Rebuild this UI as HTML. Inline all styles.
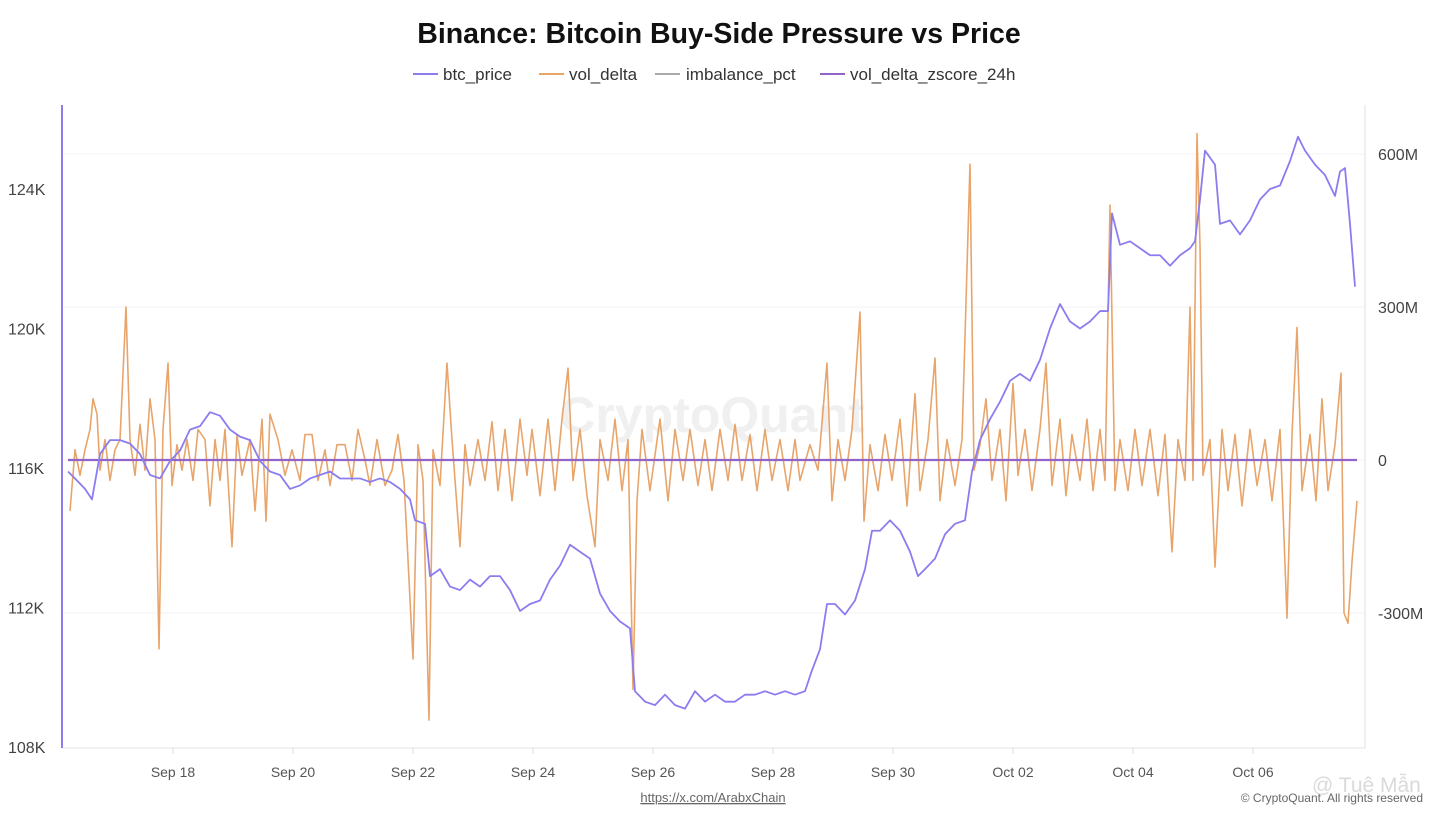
<!DOCTYPE html>
<html><head><meta charset="utf-8">
<style>
html,body{margin:0;padding:0;background:#fff;}
body{width:1438px;height:811px;overflow:hidden;font-family:"Liberation Sans",sans-serif;}
</style></head>
<body>
<svg id="chart" width="1438" height="811" xmlns="http://www.w3.org/2000/svg" font-family="Liberation Sans, sans-serif">
<text x="719" y="43" text-anchor="middle" font-size="28.5" font-weight="bold" fill="#111">Binance: Bitcoin Buy-Side Pressure vs Price</text>
<g font-size="17" fill="#333">
 <g><line x1="413" y1="74" x2="438" y2="74" stroke="#8b7cf0" stroke-width="2"/><text x="443" y="80">btc_price</text></g>
 <g><line x1="539" y1="74" x2="564" y2="74" stroke="#e8a56b" stroke-width="2"/><text x="569" y="80">vol_delta</text></g>
 <g><line x1="655" y1="74" x2="680" y2="74" stroke="#aaa" stroke-width="2"/><text x="686" y="80">imbalance_pct</text></g>
 <g><line x1="820" y1="74" x2="845" y2="74" stroke="#9064c8" stroke-width="2"/><text x="850" y="80">vol_delta_zscore_24h</text></g>
</g>
<text x="712" y="432" text-anchor="middle" font-size="50" fill="#f0f0f0" font-weight="bold">CryptoQuant</text>
<g id="grid"></g>
<g id="axes"></g>
<g id="series"></g>
<text x="713" y="802" text-anchor="middle" font-size="13" fill="#666" text-decoration="underline">https://x.com/ArabxChain</text>
<text x="1312" y="792" font-size="21" fill="#dadada">@ Tuệ Mẫn</text>
<text x="1423" y="802" text-anchor="end" font-size="12" fill="#666">© CryptoQuant. All rights reserved</text>
</svg>
<script>
const priceHours=[6,8.8,12.8,15.6,18.8,22.8,26.8,30.8,34.8,38.8,42.8,46.8,50.8,54.8,58.8,62.8,66.8,70.8,74.8,78.8,82.8,86.8,90.8,94.8,98.8,102.8,106.8,110.8,114.8,118.8,122.8,126.8,130.8,134.8,138.8,142.8,144.8,148.8,150.8,154.8,158.8,162.8,166.8,170.8,174.8,178.8,182.8,186.8,190.8,194.8,198.8,202.8,206.8,210.8,214.8,218.8,222.8,226.8,230.8,232.8,236.8,240.8,244.8,248.8,252.8,256.8,260.8,264.8,268.8,272.8,276.8,280.8,284.8,288.8,292.8,296.8,300.8,303.6,306.8,309.6,312.8,316.8,320.8,324.8,327.6,330.8,334.8,338.8,342.8,346,348.8,352.8,356.8,360.8,364.8,367.6,370.8,374.8,378.8,382.8,386.8,390.8,394.8,398.8,402.8,406.8,410.8,414.8,418.8,422,423.6,426.8,430.8,434.8,438.8,442.8,446.8,450.8,454.8,456.8,458.8,460.8,464.8,466.8,470.8,474.8,478.8,482.8,486.8,490.8,494.8,498,500.8,504.8,508.8,512.8,514.8,516.8,518.8,520.8];
const priceValues=[115.9,115.7,115.4,115.1,116.4,116.8,116.8,116.7,116.4,115.8,115.7,116.2,116.5,117.1,117.2,117.6,117.5,117.1,116.9,116.8,116.2,115.9,115.8,115.4,115.5,115.7,115.8,115.9,115.7,115.7,115.7,115.6,115.7,115.6,115.4,115.1,114.5,114.4,112.9,113.1,112.6,112.5,112.8,112.6,112.9,112.9,112.5,111.9,112.1,112.2,112.8,113.2,113.8,113.6,113.4,112.4,111.9,111.6,111.4,109.6,109.3,109.2,109.5,109.2,109.1,109.6,109.3,109.5,109.3,109.3,109.5,109.5,109.6,109.5,109.6,109.5,109.6,110.2,110.8,112.1,112.1,111.8,112.2,113.1,114.2,114.2,114.5,114.2,113.6,112.9,113.1,113.4,114.1,114.4,114.5,115.9,116.8,117.4,117.9,118.5,118.7,118.5,119.1,120.0,120.7,120.2,120.0,120.2,120.5,120.5,123.3,122.4,122.5,122.3,122.1,122.1,121.8,122.1,122.3,122.5,123.7,125.1,124.7,123.0,123.1,122.7,123.1,123.7,124.0,124.1,124.8,125.5,125.1,124.7,124.4,123.8,124.5,124.6,123.0,121.2];
const volHours=[6.8,8.8,10.8,12.8,14.8,16,17.6,18.8,20.8,22.8,24.8,26.8,29.2,30.8,32.8,34.8,36.8,38.8,40.8,42.4,44,46,47.6,49.6,51.6,53.6,56,58,60.8,62.8,64.8,66.8,68.8,71.6,73.6,75.6,78.8,80.8,83.6,85.2,86.8,90,92.8,95.6,98.8,100.8,103.6,106,108.8,110.8,113.6,116.8,119.6,122,124.8,126.8,129.6,132.8,135.6,138,140.4,144,146,148,150.4,152,154.8,157.6,159.6,162.8,164.8,166.8,170,172.8,175.6,178,180.8,183.6,186.8,189.6,191.6,194.8,198,200.8,203.6,206,208,210.8,213.6,216.8,218.8,222,224.8,227.6,230,232,233.6,235.6,238.8,242.8,246,248.8,252,254.8,258,260.8,263.6,266.8,270,272.8,275.6,278.8,281.6,284.8,287.6,290.8,294,296.8,298.8,302.8,306,309.6,311.6,314,316.8,319.6,322.8,324.4,326.8,330,332.8,335.6,338.8,341.6,344.8,346.8,350,352.8,354.8,357.6,360.8,363.6,366.8,368.4,370.8,373.2,375.6,378.8,381.2,384,386,388.8,391.6,394.8,397.2,399.6,402.8,405.2,407.6,410.8,413.6,416,418.8,420.8,422.8,424.8,426.8,430,432.8,435.6,438.8,442,444.8,447.6,450,452.8,454.8,456,457.6,458.8,460,462.8,464.8,467.6,470,472.8,475.6,478.8,481.6,484.8,487.6,490.8,493.6,495.6,497.6,499.6,502.8,505.2,507.6,510,512.8,515.2,516.4,518,519.6,521.6];
const volValues=[-100,20,-30,20,60,120,90,-20,40,-40,20,40,300,40,-30,70,-20,120,40,-370,60,190,-50,30,-20,40,-40,60,40,-90,40,-40,60,-170,50,-30,40,-100,80,-120,90,40,-30,20,-40,50,50,-40,20,-50,30,30,-40,60,0,-50,40,-50,-20,50,-40,-390,30,-40,-510,20,-50,190,40,-170,30,-50,40,-40,75,-60,60,-80,80,-30,60,-70,80,-60,80,180,-40,60,-70,-170,40,-40,80,-60,40,-450,-80,60,-60,80,-80,60,-40,60,-50,40,-60,60,-40,70,-40,50,-60,60,-40,40,-60,40,-40,30,-20,190,-80,40,-40,60,290,-120,30,-60,50,-40,80,-90,130,-60,40,200,-80,40,-50,40,580,-20,30,120,-40,60,-80,150,-30,60,-60,60,190,-50,80,-70,50,-40,80,-60,60,-40,500,-60,40,-60,60,-50,60,-70,50,-180,40,-40,300,-40,640,420,-30,40,-210,60,-60,50,-90,60,-50,40,-80,60,-310,50,260,-60,50,-80,120,-60,30,170,-300,-320,-200,-80];
const leftTicks=[108,112,116,120,124];
const rightTicks=[-300,0,300,600];
const xTickHours=[48,96,144,192,240,288,336,384,432,480];
const xTickLabels=["Sep 18","Sep 20","Sep 22","Sep 24","Sep 26","Sep 28","Sep 30","Oct 02","Oct 04","Oct 06"];
const zscoreValue=[0];

const NS="http://www.w3.org/2000/svg";
const xS=h=>173+(h-48)*2.5;
const yL=v=>468-(v-116)*34.875;
const yR=v=>460-v*0.51;
function mk(tag,attrs,parent,txt){const e=document.createElementNS(NS,tag);for(const k in attrs)e.setAttribute(k,attrs[k]);if(txt!==undefined)e.textContent=txt;parent.appendChild(e);return e;}
const grid=document.getElementById('grid'),axes=document.getElementById('axes'),series=document.getElementById('series');
rightTicks.forEach(t=>{const l=mk('line',{x1:62,x2:1365,y1:yR(t),y2:yR(t),stroke:'#f3f3f6','stroke-width':1},grid);


const tx=mk('text',{x:1378,y:yR(t)+6,'font-size':16,fill:'#444'},axes,t===0?'0':t+'M');

});
leftTicks.forEach(t=>{const tx=mk('text',{x:8,y:yL(t)+6,'font-size':16,fill:'#444'},axes,t+'K');

});
const bl=mk('line',{x1:62,x2:1365,y1:748,y2:748,stroke:'#e4e4ea','stroke-width':1},axes);


const la=mk('line',{x1:62,x2:62,y1:105,y2:748,stroke:'#8b7cf0','stroke-width':2},axes);


const ra=mk('line',{x1:1365,x2:1365,y1:105,y2:748,stroke:'#e0e0e6','stroke-width':1},axes);


xTickHours.forEach((h,i)=>{const t=mk('line',{x1:xS(h),x2:xS(h),y1:748,y2:754,stroke:'#ddd'},axes);


const tx=mk('text',{x:xS(h),y:777,'text-anchor':'middle','font-size':14,fill:'#555'},axes,xTickLabels[i]);

});
const vd=mk('polyline',{points:volHours.map((h,i)=>xS(h)+','+yR(volValues[i])).join(' '),fill:'none',stroke:'#e8a56b','stroke-width':1.6,'stroke-linejoin':'round'},series);


const zs=mk('line',{x1:xS(6),x2:xS(521.6),y1:yR(zscoreValue[0]),y2:yR(zscoreValue[0]),stroke:'#9064c8','stroke-width':2.2},series);


const pr=mk('polyline',{points:priceHours.map((h,i)=>xS(h)+','+yL(priceValues[i])).join(' '),fill:'none',stroke:'#8b7cf0','stroke-width':1.8,'stroke-linejoin':'round'},series);


</script>
</body></html>
